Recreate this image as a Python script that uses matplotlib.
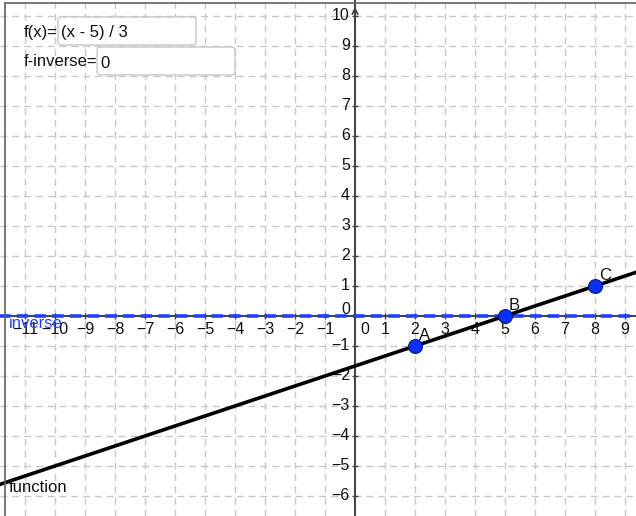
import matplotlib
matplotlib.use("Agg")
import matplotlib.pyplot as plt
from matplotlib.patches import FancyBboxPatch

plt.rcParams['font.family'] = ['Liberation Sans', 'DejaVu Sans']

# ---- data ----
x_ticks = [-11, -10, -9, -8, -7, -6, -5, -4, -3, -2, -1, 0, 1, 2, 3, 4, 5, 6, 7, 8, 9]
x_tick_labels = ["\u221211", "\u221210", "\u22129", "\u22128", "\u22127", "\u22126", "\u22125",
                 "\u22124", "\u22123", "\u22122", "\u22121", "0", "1", "2", "3", "4", "5",
                 "6", "7", "8", "9"]
y_ticks = [-6, -5, -4, -3, -2, -1, 0, 1, 2, 3, 4, 5, 6, 7, 8, 9, 10]
y_tick_labels = ["\u22126", "\u22125", "\u22124", "\u22123", "\u22122", "\u22121", "0",
                 "1", "2", "3", "4", "5", "6", "7", "8", "9", "10"]
point_names = ["A", "B", "C"]
point_x = [2, 5, 8]
point_y = [-1, 0, 1]
func_x = [-12, 10]
func_y = [(v - 5) / 3 for v in func_x]
inverse_x = [-12, 10]
inverse_y = [0, 0]
fx_label = "f(x)="
fx_text = "(x - 5) / 3"
finv_label = "f-inverse="
finv_text = "0"

W, H = 636, 516
ox, oy, s = 355, 316, 30.0

fig = plt.figure(figsize=(W / 100, H / 100), dpi=100)
ax = fig.add_axes([0, 0, 1, 1])
ax.set_xlim(-ox / s, (W - ox) / s)
ax.set_ylim(-(H - oy) / s, oy / s)
ax.axis('off')

grid_kw = dict(color='#c8c8c8', lw=1.0, dashes=(5, 3.5), zorder=1)
for xv in x_ticks:
    if xv != 0:
        ax.axvline(xv, **grid_kw)
for yv in y_ticks:
    if yv != 0:
        ax.axhline(yv, **grid_kw)

# axes
ax.axhline(0, color='#404040', lw=1.4, zorder=2)
ax.axvline(0, color='#404040', lw=1.4, zorder=2)
ax.annotate('', xy=(0, (oy - 4) / s), xytext=(0, (oy - 20) / s),
            arrowprops=dict(arrowstyle='->', color='#404040', lw=1.2,
                            mutation_scale=10), zorder=2)
ax.plot(x_ticks, [0] * len(x_ticks), ls='none', marker='|', ms=5, color='#404040', zorder=2)
ax.plot([0] * len(y_ticks), y_ticks, ls='none', marker='_', ms=5, color='#404040', zorder=2)

tk = dict(fontsize=11.5, color='#111111', zorder=3)
for xv, lab in zip(x_ticks, x_tick_labels):
    xx = xv + (10 / s if xv == 0 else 0)
    ax.text(xx, -14 / s, lab, ha='center', va='center', **tk)
for yv, lab in zip(y_ticks, y_tick_labels):
    yy = yv + (6 / s if yv == 0 else 0)
    ax.text(-5 / s, yy, lab, ha='right', va='center', **tk)

# inverse (dashed blue) and function line
ax.plot(inverse_x, inverse_y, color='#1f3fff', lw=2.6, dashes=(3.2, 1.7), zorder=4)
ax.plot(func_x, func_y, color='black', lw=2.6, zorder=5)

# points
ax.plot(point_x, point_y, ls='none', marker='o', ms=10, mfc='#0a2fff',
        mec='#0a1a80', mew=0.8, zorder=6)
for nm, px, py in zip(point_names, point_x, point_y):
    ax.text(px + 4 / s, py + 3 / s, nm, fontsize=12, color='#111111',
            ha='left', va='bottom', zorder=7)

# object labels
ax.text((9 - ox) / s, (oy - 324) / s, "inverse", color='#1f3fff', fontsize=12,
        ha='left', va='center', zorder=7)
ax.text((9 - ox) / s, (oy - 488) / s, "function", color='#111111', fontsize=12,
        ha='left', va='center', zorder=7)

# frame lines (left and top)
fig.add_artist(plt.Line2D([5 / W, 5 / W], [0, 1 - 3 / H], color='#606060', lw=1.2))
fig.add_artist(plt.Line2D([5 / W, 1], [1 - 3 / H, 1 - 3 / H], color='#606060', lw=1.2))

# input boxes
def box(x0, y0, x1, y1):
    p = FancyBboxPatch((x0 / W, 1 - y1 / H), (x1 - x0) / W, (y1 - y0) / H,
                       boxstyle="round,pad=0,rounding_size=0.006",
                       transform=fig.transFigure, fc='white', ec='#c8c8c8',
                       lw=1.0, zorder=8)
    fig.add_artist(p)

box(58, 17, 196, 45)
box(97, 47, 235, 75)
fs = 12
fig.text(24 / W, 1 - 32 / H, fx_label, fontsize=fs, color='#111111', va='center', ha='left', zorder=9)
fig.text(61 / W, 1 - 32 / H, fx_text, fontsize=fs, color='#111111', va='center', ha='left', zorder=9)
fig.text(24 / W, 1 - 62 / H, finv_label, fontsize=fs, color='#111111', va='center', ha='left', zorder=9)
fig.text(100 / W, 1 - 63 / H, finv_text, fontsize=fs, color='#111111', va='center', ha='left', zorder=9)

fig.savefig("out.png", dpi=100)
